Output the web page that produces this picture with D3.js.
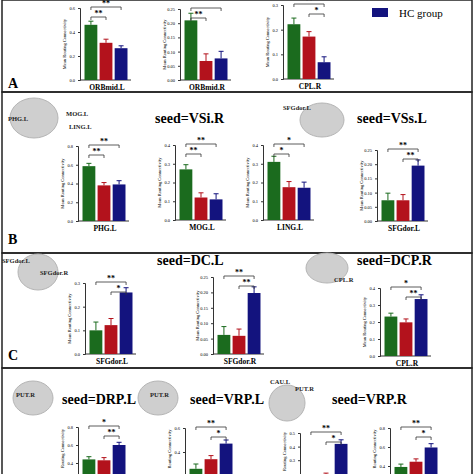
<!DOCTYPE html><html><head><meta charset="utf-8"><script src="https://d3js.org/d3.v7.min.js"></script>
<style>body{margin:0;background:#fff}</style></head><body><svg id="c" width="474" height="474"></svg>
<script>
const groups=["G1","G2","HC group"];
const colors=["#1b6b1e","#b3121c","#13137e"];
const chartLabels=["ORBmid.L","ORBmid.R","CPL.R","PHG.L","MOG.L","LING.L","SFGdor.L","SFGdor.L","SFGdor.R","CPL.R","","","",""];
const chartMax=[0.6,0.25,0.3,0.8,0.4,0.4,0.25,0.3,0.25,0.4,0.8,0.6,0.5,0.8];
const chartStep=[0.2,0.05,0.1,0.2,0.1,0.1,0.05,0.1,0.05,0.1,0.2,0.2,0.1,0.2];
const chartValues=[[0.46,0.31,0.265],[0.21,0.067,0.076],[0.222,0.172,0.068],[0.585,0.38,0.39],[0.27,0.12,0.11],[0.31,0.175,0.172],[0.073,0.073,0.195],[0.10,0.122,0.26],[0.062,0.059,0.198],[0.232,0.198,0.335],[0.44,0.43,0.60],[0.26,0.34,0.47],[0.13,0.175,0.42],[0.39,0.445,0.595]];
const chartErrors=[[0.03,0.03,0.02],[0.025,0.025,0.025],[0.025,0.02,0.022],[0.03,0.03,0.04],[0.025,0.025,0.03],[0.03,0.03,0.03],[0.025,0.02,0.02],[0.035,0.028,0.02],[0.027,0.022,0.02],[0.02,0.02,0.025],[0.03,0.03,0.03],[0.04,0.03,0.03],[0.03,0.03,0.03],[0.03,0.03,0.04]];
const chartSigs=[[[0,2,"**"],[0,1,"**"]],[[0,2,""],[0,1,"**"]],[[0,2,"**"],[1,2,"*"]],[[0,2,"**"],[0,1,"**"]],[[0,2,"**"],[0,1,"**"]],[[0,2,"*"],[0,1,"*"]],[[0,2,"**"],[1,2,"**"]],[[0,2,"**"],[1,2,"*"]],[[0,2,"**"],[1,2,"**"]],[[0,2,"*"],[1,2,"**"]],[[0,2,"*"],[1,2,"**"]],[[0,2,"**"],[1,2,"*"]],[[0,2,"**"],[1,2,"*"]],[[0,2,"**"],[1,2,"*"]]];
const L=[[80,8,80],[180,9,80],[283,5,79],[78,146,221],[175,145,220],[263,145,220],[377,150,221],[85,283,354],[213,277,354],[380,288,356],[78,427,499],[185,428,500],[300,433,501],[390,428,504]];
const svg=d3.select("#c");
const serif="Liberation Serif, Times New Roman, serif";
[[2,0,472,92],[2,92,472,253],[2,253,472,368],[2,368,472,480]].forEach(b=>svg.append("rect").attr("x",b[0]).attr("y",b[1]).attr("width",b[2]-b[0]).attr("height",b[3]-b[1]).attr("fill","none").attr("stroke","#222").attr("stroke-width",1.5));
[["A",8,88],["B",8,244],["C",8,360]].forEach(t=>svg.append("text").attr("x",t[1]).attr("y",t[2]).text(t[0]).attr("font-family",serif).attr("font-weight","bold").attr("font-size",14));
[[34,118,24,20],[322,120,22,17],[38,272,20,18],[327,268,21,15],[33,398,20,17],[158,398,20,17],[287,403,18,18]].forEach(e=>svg.append("ellipse").attr("cx",e[0]).attr("cy",e[1]).attr("rx",e[2]).attr("ry",e[3]).attr("fill","#cfcfcf").attr("stroke","#b5b5b5"));
[["PHG.L",8,121],["MOG.L",66,116],["LING.L",69,129],["SFGdor.L",283,110],["SFGdor.L",2,263],["SFGdor.R",40,275],["CPL.R",334,282],["PUT.R",16,397],["PUT.R",150,397],["CAU.L",270,384],["PUT.R",295,391]].forEach(t=>svg.append("text").attr("x",t[1]).attr("y",t[2]).text(t[0]).attr("font-family",serif).attr("font-weight","bold").attr("font-size",6.5).attr("fill","#222"));
[["seed=VSi.R",155,123],["seed=VSs.L",357,123],["seed=DC.L",157,265],["seed=DCP.R",357,265],["seed=DRP.L",62,404],["seed=VRP.L",190,404],["seed=VRP.R",332,404]].forEach(t=>svg.append("text").attr("x",t[1]).attr("y",t[2]).text(t[0]).attr("font-family",serif).attr("font-weight","bold").attr("font-size",14));
svg.append("rect").attr("x",372).attr("y",8).attr("width",16).attr("height",9).attr("fill",colors[2]);
svg.append("text").attr("x",399).attr("y",17).text(groups[2]).attr("font-family",serif).attr("font-size",11);
chartValues.forEach((vals,k)=>{
  const [ax,yt,yb]=L[k];
  const y=d3.scaleLinear().domain([0,chartMax[k]]).range([yb,yt]);
  const x=d3.scaleBand().domain([0,1,2]).range([ax+3,ax+49]).paddingInner(0.15).paddingOuter(0.1);
  const g=svg.append("g");
  const ticks=d3.range(0,chartMax[k]+1e-9,chartStep[k]).filter(t=>y(t)<470);
  const dec=chartStep[k]<0.1?2:1;
  g.append("g").attr("transform",`translate(${ax},0)`).call(d3.axisLeft(y).tickValues(ticks).tickFormat(d3.format(`.${dec}f`)).tickSize(2)).call(s=>{s.selectAll("text").attr("font-size",4.5).attr("font-family",serif);s.selectAll("path,line").attr("stroke","#333")});
  g.append("line").attr("x1",ax).attr("x2",ax+51).attr("y1",yb).attr("y2",yb).attr("stroke","#333");
  vals.forEach((v,i)=>{
    const e=chartErrors[k][i],cx=x(i)+x.bandwidth()/2;
    g.append("line").attr("x1",cx).attr("x2",cx).attr("y1",y(v)).attr("y2",y(v+e)).attr("stroke",colors[i]);
    g.append("line").attr("x1",cx-2.5).attr("x2",cx+2.5).attr("y1",y(v+e)).attr("y2",y(v+e)).attr("stroke",colors[i]);
    g.append("rect").attr("x",x(i)).attr("y",y(v)).attr("width",x.bandwidth()).attr("height",yb-y(v)).attr("fill",colors[i]);
  });
  chartSigs[k].forEach((s,j)=>{
    const by=j===0?yt-1:yt+9;
    const x1=x(s[0])+x.bandwidth()/2,x2=x(s[1])+x.bandwidth()/2;
    g.append("path").attr("d",`M${x1},${by+3}V${by}H${x2}V${by+3}`).attr("fill","none").attr("stroke","#333").attr("stroke-width",0.8);
    g.append("text").attr("x",(x1+x2)/2).attr("y",by-1).attr("text-anchor","middle").text(s[2]).attr("font-family",serif).attr("font-weight","bold").attr("font-size",8);
  });
  const ymid=(yt+Math.min(yb,470))/2;
  g.append("text").attr("transform",`translate(${ax-14},${ymid}) rotate(-90)`).attr("text-anchor","middle").text(yb>470?"Routing Connectivity":"Mean Routing Connectivity").attr("font-family",serif).attr("font-size",4.5);
  if(chartLabels[k]) g.append("text").attr("x",ax+27).attr("y",yb+10).attr("text-anchor","middle").text(chartLabels[k]).attr("font-family",serif).attr("font-weight","bold").attr("font-size",7.5);
});
</script></body></html>
